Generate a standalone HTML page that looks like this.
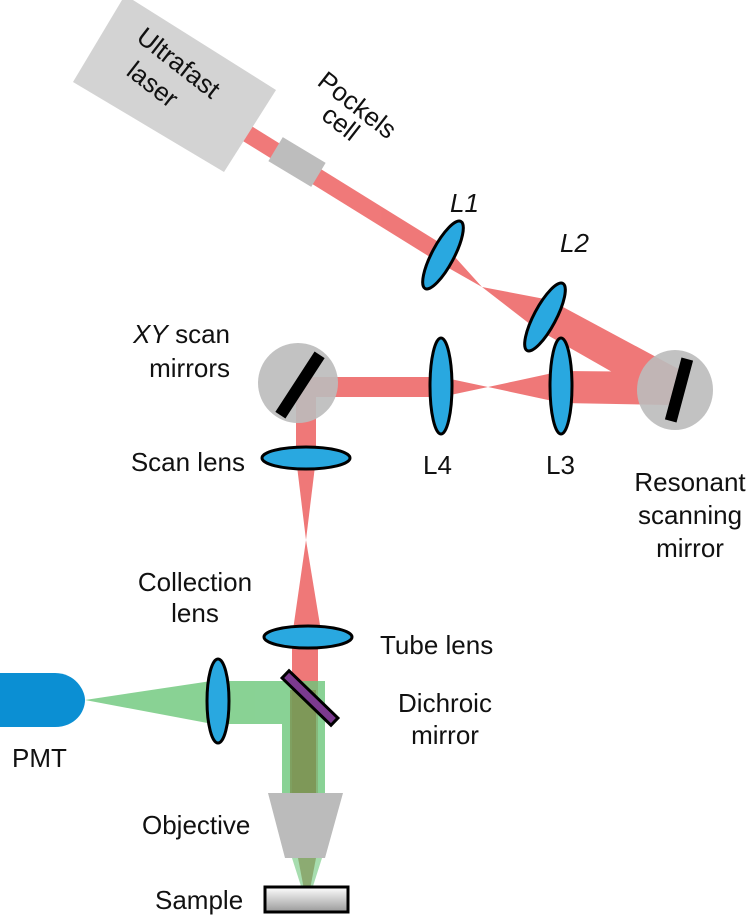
<!DOCTYPE html>
<html><head><meta charset="utf-8"><style>
html,body{margin:0;padding:0;background:#fff}
svg{display:block}
text{font-family:"Liberation Sans",sans-serif;font-size:26px;fill:#111}
</style></head><body>
<svg width="750" height="916" viewBox="0 0 750 916" xmlns="http://www.w3.org/2000/svg">
<defs>
<linearGradient id="sg" x1="0" y1="0" x2="0" y2="1"><stop offset="0" stop-color="#fff"/><stop offset="1" stop-color="#999"/></linearGradient>
</defs>
<!-- laser beam -->
<g fill="#ee6a6a" opacity="0.9">
<polygon points="245,122 445,246 438,262 238,138"/>
<polygon points="445,246 438,262 482,287"/>
<polygon points="482,287 550,300 535,328"/>
<polygon points="550,300 535,328 670,405 684,372"/>
<polygon points="684,372 670,405 562,403 562,371"/>
<polygon points="562,371 562,403 488,387"/>
<polygon points="488,387 441,377 441,397"/>
<polygon points="441,377 441,397 298,397 298,377"/>
<polygon points="296,390 316,390 316,458 296,458"/>
<polygon points="296,458 316,458 306,540"/>
<polygon points="306,540 322,637 292,637"/>
<polygon points="292,637 318,637 318,795 292,795"/>
</g>
<!-- laser box -->
<polygon points="73,82 125,-5 276,90 224,172" fill="#d3d3d3"/>
<text transform="translate(135,40) rotate(38)">Ultrafast</text>
<text transform="translate(125,74) rotate(38)">laser</text>
<!-- pockels -->
<rect x="-25" y="-14" width="50" height="28" fill="#bdbdbd" transform="translate(297,162) rotate(31)"/>
<text transform="translate(316,84) rotate(38)">Pockels</text>
<text transform="translate(320,118) rotate(38)">cell</text>
<!-- resonant mirror -->
<ellipse cx="675" cy="390" rx="38" ry="40" fill="#bbb" opacity="0.9"/>
<rect x="-6" y="-32" width="12" height="64" fill="#000" transform="translate(679,390) rotate(15)"/>
<!-- XY mirror -->
<ellipse cx="298" cy="383" rx="40" ry="40" fill="#bbb" opacity="0.9"/>
<rect x="-6" y="-36" width="12" height="72" fill="#000" transform="translate(300,385) rotate(33)"/>
<!-- green -->
<g fill="#6cc77a" opacity="0.8">
<polygon points="85,700 218,680 218,725"/>
<polygon points="218,681 325,681 325,795 282,795 282,724 218,724"/>
</g>
<rect x="290" y="690" width="26" height="105" fill="#7a8a4a" opacity="0.7"/>
<!-- PMT -->
<path d="M0,673 H55 C75,673 85,690 85,700 C85,712 75,727 55,727 H0 Z" fill="#0b8fd3"/>
<!-- lenses -->
<g fill="#29a8e0" stroke="#000" stroke-width="3">
<ellipse cx="443" cy="255" rx="11" ry="38" transform="rotate(28 443 255)"/>
<ellipse cx="545" cy="317" rx="11" ry="38" transform="rotate(28 545 317)"/>
<ellipse cx="561" cy="386" rx="11" ry="48"/>
<ellipse cx="441" cy="386" rx="11" ry="48"/>
<ellipse cx="306" cy="458" rx="44" ry="11"/>
<ellipse cx="308" cy="637" rx="44" ry="11"/>
<ellipse cx="218" cy="701" rx="11" ry="42"/>
</g>
<!-- dichroic -->
<rect x="-34" y="-5" width="68" height="10" fill="#7b3a8f" stroke="#000" stroke-width="3" transform="translate(310,698) rotate(44)"/>
<!-- objective -->
<polygon points="268,793 343,793 325,858 285,858" fill="#bbb"/>
<polygon points="292,858 322,858 307,905" fill="#6cc77a" opacity="0.6"/>
<polygon points="298,858 316,858 307,905" fill="#7a8a4a" opacity="0.6"/>
<rect x="265" y="887" width="83" height="25" fill="url(#sg)" stroke="#000" stroke-width="3"/>
<!-- labels -->
<text x="450" y="212" font-style="italic">L1</text>
<text x="560" y="252" font-style="italic">L2</text>
<text x="230" y="343" text-anchor="end"><tspan font-style="italic">XY</tspan> scan</text>
<text x="230" y="377" text-anchor="end">mirrors</text>
<text x="423" y="474">L4</text>
<text x="546" y="474">L3</text>
<text x="245" y="471" text-anchor="end">Scan lens</text>
<text x="690" y="491" text-anchor="middle">Resonant</text>
<text x="690" y="524" text-anchor="middle">scanning</text>
<text x="690" y="557" text-anchor="middle">mirror</text>
<text x="195" y="591" text-anchor="middle">Collection</text>
<text x="195" y="622" text-anchor="middle">lens</text>
<text x="380" y="654">Tube lens</text>
<text x="445" y="712" text-anchor="middle">Dichroic</text>
<text x="445" y="744" text-anchor="middle">mirror</text>
<text x="12" y="767">PMT</text>
<text x="142" y="834">Objective</text>
<text x="155" y="909">Sample</text>
</svg>
</body></html>
